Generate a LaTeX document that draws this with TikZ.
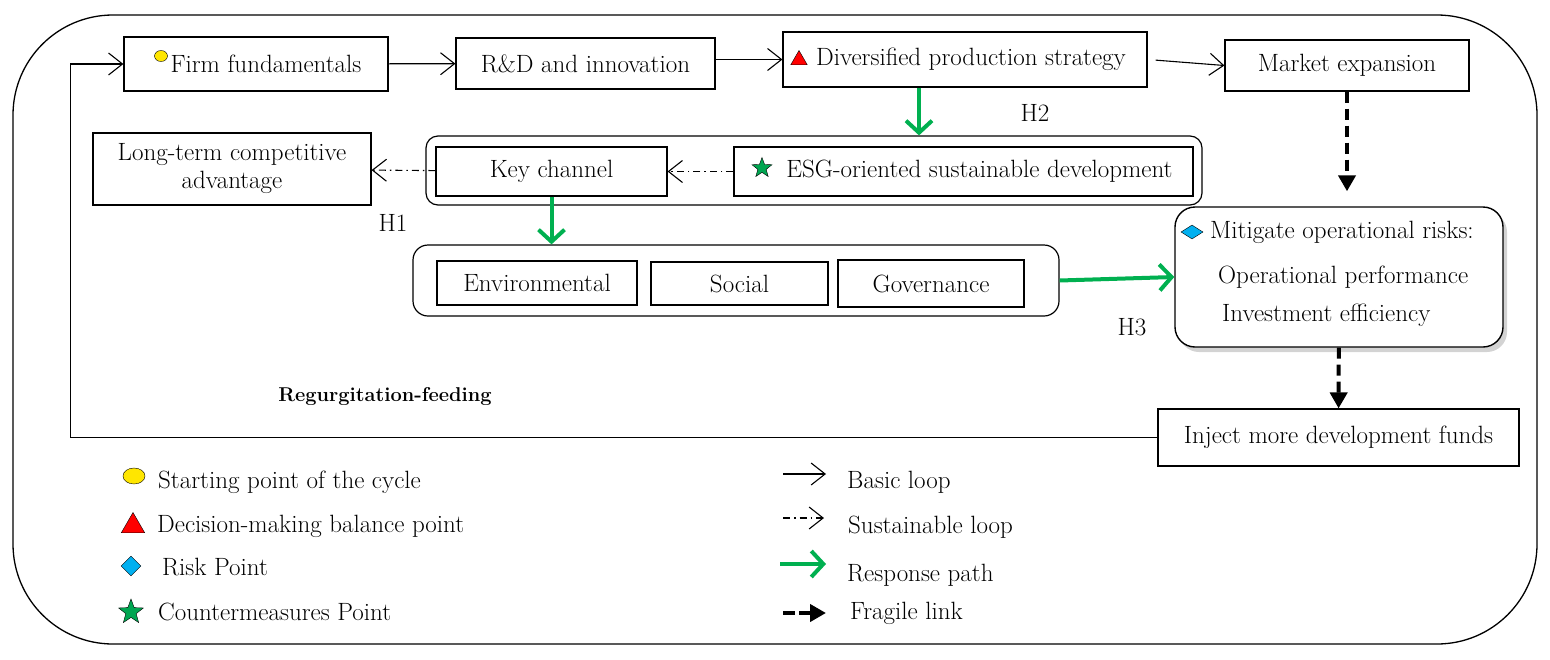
\documentclass[tikz,border=0pt]{standalone}
\usepackage{tikz}
\usetikzlibrary{arrows.meta, positioning, shapes.geometric, shadows}

\definecolor{dotyellow}{RGB}{255,230,0}
\definecolor{respgreen}{RGB}{0,176,80}
\definecolor{stargreen}{RGB}{0,166,81}
\definecolor{riskblue}{RGB}{0,176,240}

\begin{document}
\begin{tikzpicture}[
  x=1pt, y=-1pt,
  font=\fontsize{25}{28}\selectfont,
  box/.style={draw, line width=1.2pt, inner sep=0pt},
  grp/.style={draw, line width=1.2pt, rounded corners=12pt, inner sep=0pt},
  txt/.style={inner sep=0pt, anchor=west},
  basic/.style={-{Straight Barb[length=14pt, width=22pt]}, line width=1.1pt},
  sust/.style={basic, dash pattern=on 7pt off 4pt on 1.5pt off 4pt},
  resp/.style={-{Straight Barb[length=12pt, width=26pt]}, line width=4pt, draw=respgreen},
  fragile/.style={-{Triangle[length=16pt, width=17pt]}, line width=4pt, dash pattern=on 11pt off 6pt},
  yel/.style={ellipse, draw, fill=dotyellow, inner sep=0pt, minimum width=13pt, minimum height=11pt},
  tri/.style={regular polygon, regular polygon sides=3, draw, fill=red, inner sep=0pt, minimum size=19pt},
  gem/.style={diamond, draw, fill=riskblue, inner sep=0pt, minimum width=22pt, minimum height=14pt},
  starm/.style={star, star points=5, star point ratio=2.4, draw, fill=stargreen, inner sep=0pt, minimum size=21pt}
]
\useasboundingbox (0,0) rectangle (1550,659);
\node[draw, line width=1.3pt, rounded corners=100pt, minimum width=1524pt, minimum height=629pt] (frame) at (775,329.5) {};

% main cycle
\node[box, minimum width=264pt, minimum height=54pt] (fund) at (256,64) {\hspace{20pt}Firm fundamentals};
\node[box, minimum width=259pt, minimum height=51pt] (rd) at (585.5,63.5) {R\&D and innovation};
\node[box, minimum width=364pt, minimum height=55pt] (div) at (965,59.5) {\hspace{12pt}Diversified production strategy};
\node[box, minimum width=244pt, minimum height=51pt] (mkt) at (1347,65.5) {Market expansion};

\node[grp, minimum width=776pt, minimum height=69pt] (grp1) at (814,170.5) {};
\node[box, minimum width=231pt, minimum height=49pt] (key) at (551.5,171.5) {Key channel};
\node[box, minimum width=459pt, minimum height=49pt] (esg) at (963.5,171.5) {\hspace{32pt}ESG-oriented sustainable development};
\node[box, minimum width=278pt, minimum height=72pt, align=center] (lta) at (232,169) {Long-term competitive\\advantage};

\node[grp, rounded corners=15pt, minimum width=646pt, minimum height=71pt] (grp2) at (736,280.5) {};
\node[box, minimum width=200pt, minimum height=44pt] (env) at (537,283) {Environmental};
\node[box, minimum width=177pt, minimum height=43pt] (soc) at (739.5,283.5) {Social};
\node[box, minimum width=186pt, minimum height=47pt] (gov) at (931,283.5) {Governance};

\node[draw, line width=1.4pt, rounded corners=20pt, fill=white,
  drop shadow={shadow xshift=4pt, shadow yshift=-5pt, opacity=0.35},
  minimum width=328pt, minimum height=140pt] (risk) at (1339,277) {};
\node[txt] (risktitle) at (1210,232) {Mitigate operational risks:};
\node[txt] (riskperf) at (1218,277) {Operational performance};
\node[txt] (riskinv) at (1222,315) {Investment efficiency};

\node[box, minimum width=361pt, minimum height=57pt] (inject) at (1338.5,437.5) {Inject more development funds};

% hypotheses
\node (h1) at (393,223) {H1};
\node (h2) at (1035,113) {H2};
\node (h3) at (1132,327) {H3};
\node[font=\fontsize{20}{24}\selectfont\bfseries] (regur) at (385,397) {Regurgitation-feeding};

% points
\node[yel] (startdot) at (161,56) {};
\node[tri] (decide) at (799,60) {};
\node[starm] (counter) at (762,168) {};
\node[gem] (riskpt) at (1192,232) {};

\draw[basic] (fund) -- (rd);
\draw[basic] (rd.east |- div.west) -- (div.west);
\draw[basic, shorten <=8pt] (div.east) -- (mkt.west);
\draw[basic] (inject.west) -| ([xshift=-53pt]fund.west) -- (fund.west);
\draw[sust] (esg) -- (key);
\draw[sust] (key) -- (lta);
\draw[resp] ([xshift=-46pt]div.south) coordinate (h2src) -- (h2src |- grp1.north);
\draw[resp] (key.south) -- (key.south |- grp2.north);
\draw[resp] (grp2.east) -- (risk.west);
\draw[fragile, shorten >=15pt] (mkt.south) -- (mkt.south |- risk.north);
\draw[fragile] (risk) -- (inject);

% legend
\node[yel, minimum width=22pt, minimum height=16pt] (lgstart) at (134,476) {};
\node[txt] (lgstarttxt) at (158,482) {Starting point of the cycle};
\node[tri, minimum size=27pt] (lgdecide) at (133,526) {};
\node[txt] (lgdecidetxt) at (157,526) {Decision-making balance point};
\node[gem, minimum width=20pt, minimum height=20pt] (lgrisk) at (131,566) {};
\node[txt] (lgrisktxt) at (162,567) {Risk Point};
\node[starm, minimum size=26pt] (lgcounter) at (131,612) {};
\node[txt] (lgcountertxt) at (158,612) {Countermeasures Point};

\coordinate (lgb1) at (783,474); \coordinate (lgb2) at (826,474);
\coordinate (lgs1) at (783,518); \coordinate (lgs2) at (824,518);
\coordinate (lgr1) at (780,564); \coordinate (lgr2) at (826,564);
\coordinate (lgf1) at (783,613); \coordinate (lgf2) at (826,613);
\draw[basic] (lgb1) -- (lgb2);
\draw[sust] (lgs1) -- (lgs2);
\draw[resp] (lgr1) -- (lgr2);
\draw[fragile, dash pattern=on 12pt off 4pt] (lgf1) -- (lgf2);
\node[txt] (lgbasictxt) at (847,482) {Basic loop};
\node[txt] (lgsusttxt) at (848,527) {Sustainable loop};
\node[txt] (lgresptxt) at (847,575) {Response path};
\node[txt] (lgfragtxt) at (850,613) {Fragile link};
\end{tikzpicture}
\end{document}
